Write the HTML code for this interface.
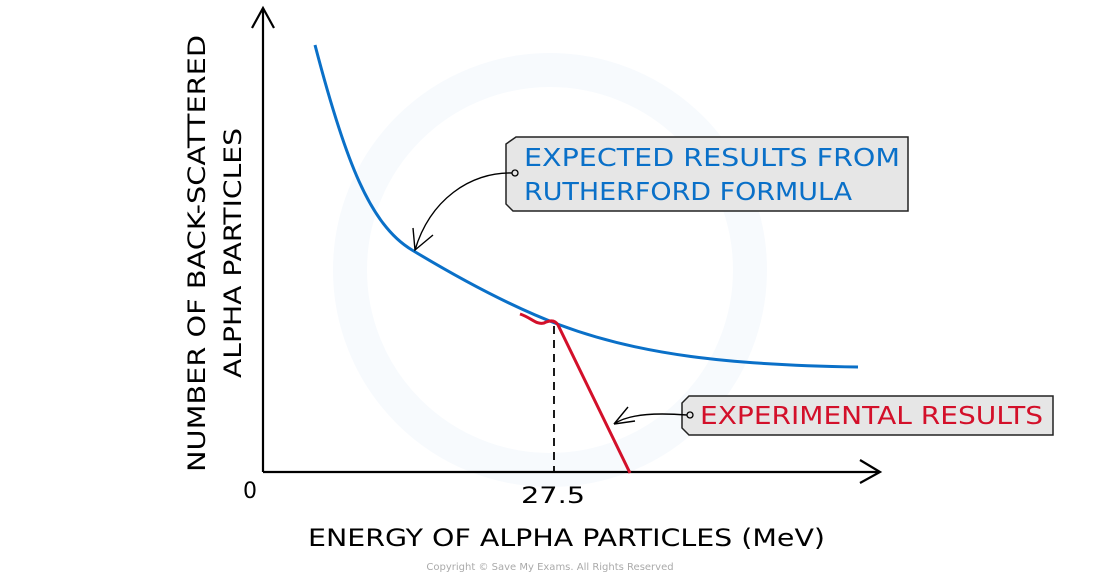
<!DOCTYPE html>
<html><head><meta charset="utf-8"><style>
html,body{margin:0;padding:0;background:#fff}
svg{display:block}
text{font-family:"DejaVu Sans","Liberation Sans",sans-serif}
</style></head><body>
<svg width="1100" height="576" viewBox="0 0 1100 576" xmlns="http://www.w3.org/2000/svg">
<circle cx="550" cy="270" r="200" fill="none" stroke="#f7fafd" stroke-width="34"/>
<path d="M263 472 V8 M252 28 L263 8 L274 28" fill="none" stroke="#000" stroke-width="2.2"/>
<path d="M263 472 H880 M860 460 L880 472 L860 483" fill="none" stroke="#000" stroke-width="2.2"/>
<line x1="554" y1="326" x2="554" y2="472" stroke="#000" stroke-width="1.8" stroke-dasharray="8,6"/>
<path d="M315 45 C345 160 370 225 412 250 C470 285 520 310 560 325 C640 355 730 365 858 367" fill="none" stroke="#0a70c8" stroke-width="3"/>
<path d="M520 314 C532 318 536 325 544 323 C550 320 555 320 558 325 L630 473" fill="none" stroke="#d3102a" stroke-width="3"/>
<path d="M516 137 H908 V211 H513 L506 204 V144 Z" fill="#e6e6e6" stroke="#222" stroke-width="1.5"/>
<text x="524" y="166" font-size="25" fill="#0a70c8" textLength="376" lengthAdjust="spacingAndGlyphs">EXPECTED RESULTS FROM</text>
<text x="524" y="200" font-size="25" fill="#0a70c8" textLength="328" lengthAdjust="spacingAndGlyphs">RUTHERFORD FORMULA</text>
<circle cx="515" cy="173" r="3" fill="none" stroke="#000" stroke-width="1.3"/>
<path d="M512 173 C470 172 430 200 415 250" fill="none" stroke="#000" stroke-width="1.4"/>
<path d="M413 228 L415 250 L433 235" fill="none" stroke="#000" stroke-width="1.4"/>
<path d="M689 396 H1053 V435 H689 L682 428 V403 Z" fill="#e6e6e6" stroke="#222" stroke-width="1.5"/>
<text x="700" y="424" font-size="25" fill="#d3102a" textLength="343" lengthAdjust="spacingAndGlyphs">EXPERIMENTAL RESULTS</text>
<circle cx="690" cy="415" r="3" fill="none" stroke="#000" stroke-width="1.3"/>
<path d="M687 415 C660 413 630 413 614 424" fill="none" stroke="#000" stroke-width="1.4"/>
<path d="M614 424 L628 407 M614 424 L635 421" fill="none" stroke="#000" stroke-width="1.4"/>
<text x="243" y="498" font-size="22" fill="#000">0</text>
<text x="521" y="503" font-size="22" fill="#000" textLength="64" lengthAdjust="spacingAndGlyphs">27.5</text>
<text x="308" y="546" font-size="24" fill="#000" textLength="517" lengthAdjust="spacingAndGlyphs">ENERGY OF ALPHA PARTICLES (MeV)</text>
<text transform="translate(205,472) rotate(-90)" font-size="24" fill="#000" textLength="437" lengthAdjust="spacingAndGlyphs">NUMBER OF BACK-SCATTERED</text>
<text transform="translate(241,378) rotate(-90)" font-size="24" fill="#000" textLength="250" lengthAdjust="spacingAndGlyphs">ALPHA PARTICLES</text>
<text x="550" y="570" font-size="10" fill="#aaa" text-anchor="middle">Copyright © Save My Exams. All Rights Reserved</text>
</svg>
</body></html>
